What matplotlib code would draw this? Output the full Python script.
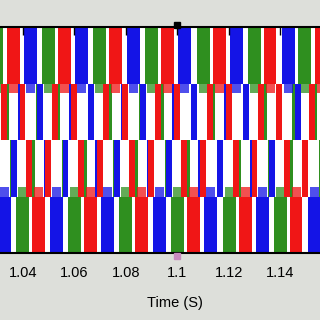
import matplotlib
matplotlib.use("Agg")
import matplotlib.pyplot as plt

# Centre times (s) of the bars at the positive peak (top band) and the
# negative peak (bottom band) for each phase
red_peaks = [1.0363, 1.0562, 1.0762, 1.0962, 1.1165, 1.1361, 1.1562]
blue_peaks = [1.0431, 1.0629, 1.0830, 1.1030, 1.1231, 1.1432]
green_peaks = [1.0300, 1.0499, 1.0700, 1.0901, 1.1101, 1.1302, 1.1496]

red_troughs = [1.0263, 1.0462, 1.0663, 1.0862, 1.1063, 1.1264, 1.1462]
blue_troughs = [1.0329, 1.0530, 1.0730, 1.0931, 1.1131, 1.1332, 1.1532]
green_troughs = [1.0400, 1.0600, 1.0800, 1.1001, 1.1202, 1.1401, 1.1600]

# Voltage levels of the five-level output (top band = +1..+2 etc.)
LEVELS = [-2, -1, 0, 1, 2]

# Duration of the outer bands and of the inner (flank) bands
W_OUTER = 0.0050
W_INNER = 0.0023

tick_vals = [1.04, 1.06, 1.08, 1.1, 1.12, 1.14]
tick_labels = ["1.04", "1.06", "1.08", "1.1", "1.12", "1.14"]
x_label = "Time (S)"

phases = [
    ("green", "#2f8f1f", green_peaks, green_troughs),
    ("blue", "#1414e6", blue_peaks, blue_troughs),
    ("red", "#f01616", red_peaks, red_troughs),
]

FONT = ["Liberation Sans Narrow", "Liberation Sans", "DejaVu Sans"]

fig = plt.figure(figsize=(3.2, 3.2), dpi=100, facecolor="#dddfda")
ax = fig.add_axes([0, 67 / 320, 1, 226 / 320])
ax.set_facecolor("white")


def draw_phase(color, peaks, troughs):
    off = W_OUTER / 2 + W_INNER / 2
    # outer bands (switching between +1/+2 and -1/-2)
    ax.bar(peaks, LEVELS[4] - LEVELS[3], width=W_OUTER, bottom=LEVELS[3],
           color=color, linewidth=0)
    ax.bar(troughs, LEVELS[1] - LEVELS[0], width=W_OUTER, bottom=LEVELS[0],
           color=color, linewidth=0)
    # ringing at the band edge
    ax.bar(peaks, 0.16, width=W_OUTER * 0.7, bottom=LEVELS[3] - 0.16,
           color=color, alpha=0.75, linewidth=0)
    ax.bar(troughs, 0.16, width=W_OUTER * 0.7, bottom=LEVELS[1],
           color=color, alpha=0.75, linewidth=0)
    # inner bands on both flanks of each peak / trough
    for sign in (-1, 1):
        ax.bar([p + sign * off for p in peaks], LEVELS[3] - LEVELS[2],
               width=W_INNER, bottom=LEVELS[2], color=color, linewidth=0)
        ax.bar([t + sign * off for t in troughs], LEVELS[2] - LEVELS[1],
               width=W_INNER, bottom=LEVELS[1], color=color, linewidth=0)


for name, color, peaks, troughs in phases:
    draw_phase(color, peaks, troughs)

ax.set_xlim(1.0312, 1.1555)
ax.set_ylim(LEVELS[0], LEVELS[-1])
ax.set_yticks([])
ax.set_xticks(tick_vals)
ax.set_xticklabels(tick_labels, family=FONT, fontsize=10.5)
ax.tick_params(axis="x", direction="in", top=True, bottom=False,
               length=6, width=1, pad=9.5, labelcolor="black")

for side in ("left", "right"):
    ax.spines[side].set_visible(False)
for side in ("top", "bottom"):
    ax.spines[side].set_linewidth(1.5)
    ax.spines[side].set_color("black")

ax.set_xlabel(x_label, family=FONT, fontsize=10.5, color="black")
ax.xaxis.set_label_coords(0.547, -0.19)

# cursor markers at t = 1.1
ax.plot([1.1], [2.04], marker="s", ms=5, color="black", clip_on=False, zorder=6)
ax.plot([1.1], [-2.05], marker="s", ms=5, color="#c98bbf", clip_on=False, zorder=6)

fig.savefig("out.png", dpi=100, facecolor=fig.get_facecolor())
